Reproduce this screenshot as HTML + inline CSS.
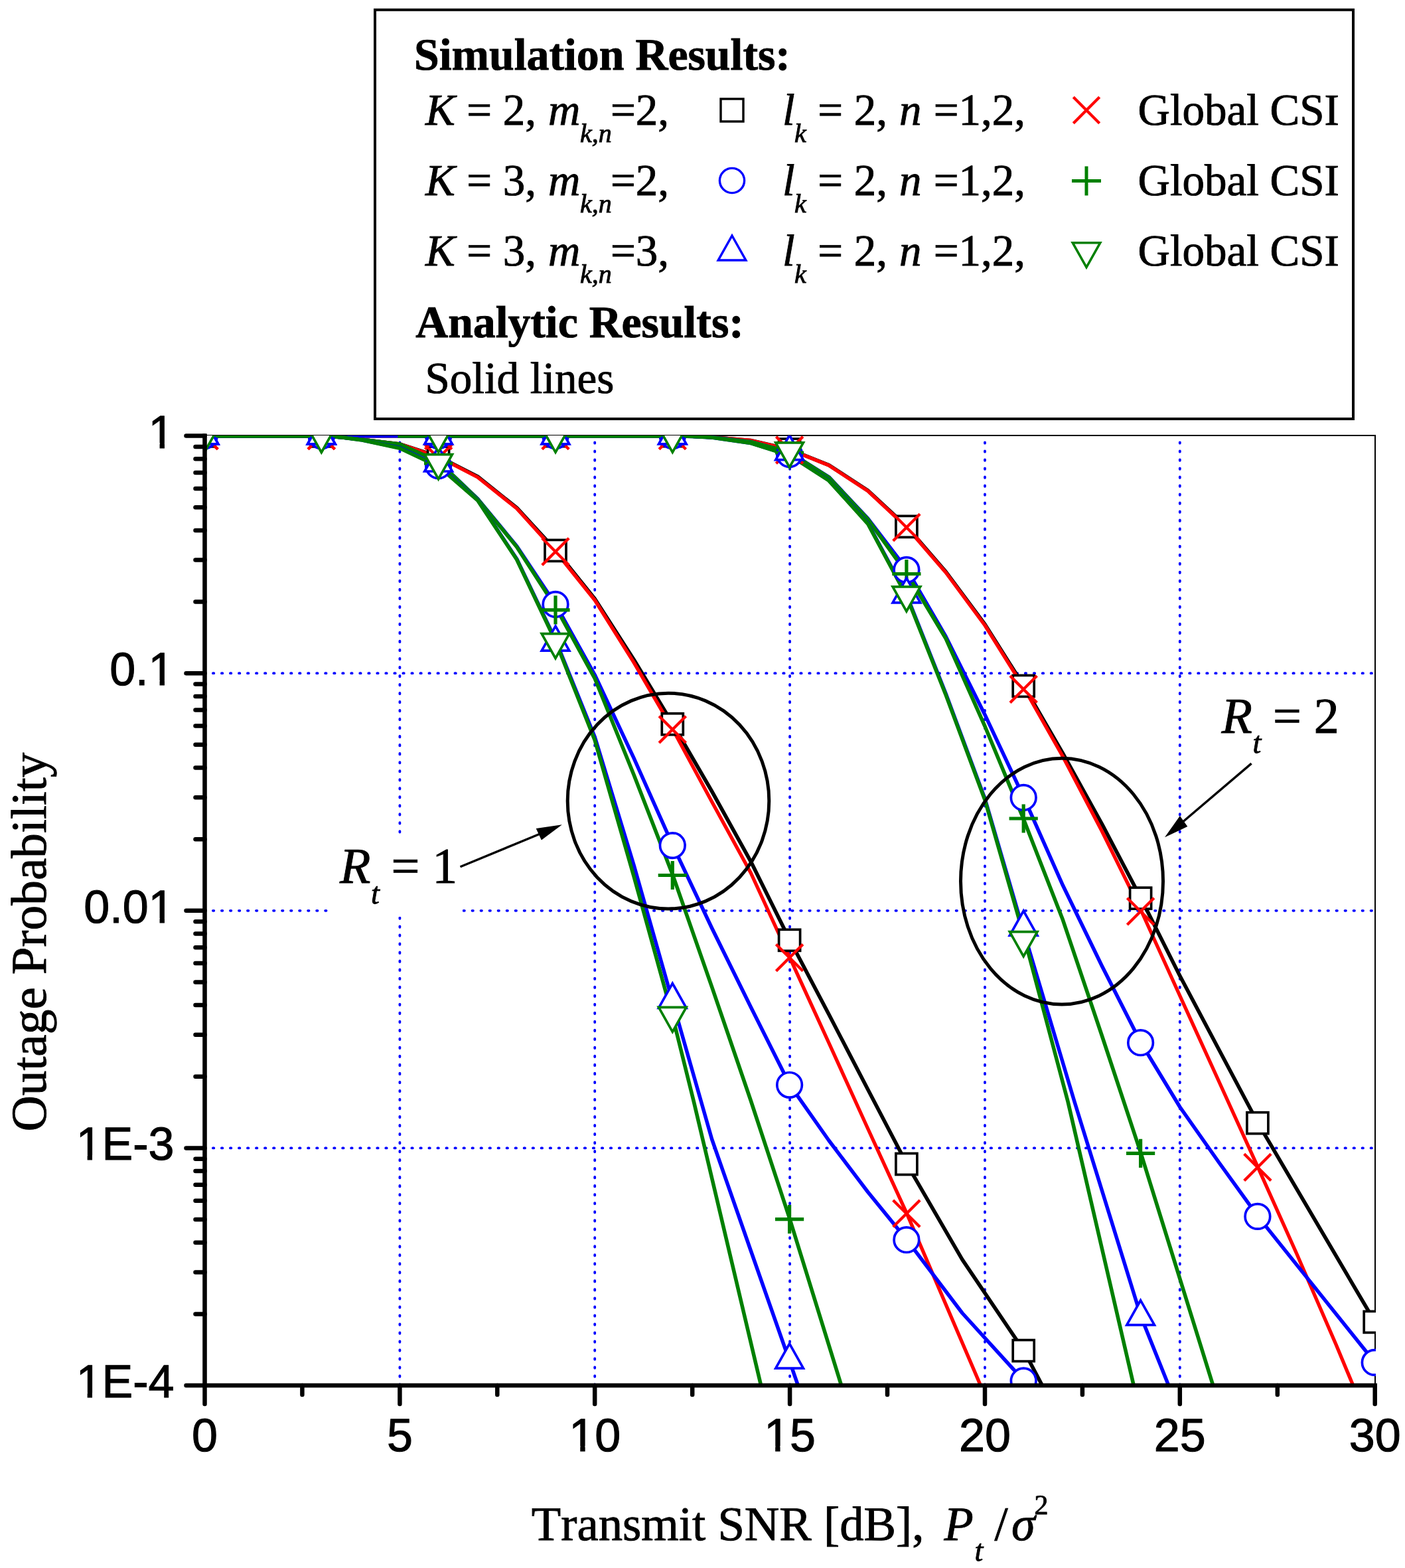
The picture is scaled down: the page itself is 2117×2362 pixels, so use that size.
<!DOCTYPE html>
<html lang="en">
<head>
<meta charset="utf-8">
<title>Outage Probability versus Transmit SNR</title>
<style>
html,body{margin:0;padding:0;background:#fff;}
body{width:2117px;height:2362px;overflow:hidden;}
svg{display:block;}
text{white-space:pre;font-kerning:none;font-variant-ligatures:none;text-rendering:geometricPrecision;}
</style>
</head>
<body>
<svg width="2117" height="2362" viewBox="0 0 2117 2362" role="img" aria-label="Outage probability versus transmit SNR">
<rect x="0" y="0" width="2117" height="2362" fill="#ffffff"/>
<defs><clipPath id="plotclip"><rect x="308.5" y="656" width="1764.50" height="1431.00"/></clipPath></defs>
<g id="grid" fill="none" stroke="#0000ff" stroke-width="3.8" stroke-linecap="round" stroke-dasharray="1.4 11.62">
<line x1="602.4" y1="666.3" x2="602.4" y2="2087.0"/>
<line x1="896.2" y1="666.3" x2="896.2" y2="2087.0"/>
<line x1="1190.1" y1="666.3" x2="1190.1" y2="2087.0"/>
<line x1="1484.0" y1="666.3" x2="1484.0" y2="2087.0"/>
<line x1="1777.8" y1="666.3" x2="1777.8" y2="2087.0"/>
<line x1="320.9" y1="1014.2" x2="2071.7" y2="1014.2"/>
<line x1="320.9" y1="1371.8" x2="2071.7" y2="1371.8"/>
<line x1="320.9" y1="1729.4" x2="2071.7" y2="1729.4"/>
</g>
<rect id="labelbg" x="495" y="1256" width="202" height="125" fill="#fff"/>
<path id="thinframe" d="M308.5 656H2072V2087.0" fill="none" stroke="#000" stroke-width="2"/>
<g id="curves" clip-path="url(#plotclip)" fill="none" stroke-width="5.3" stroke-linejoin="round">
<polyline stroke="#000000" stroke-width="5.6" points="308.5,656.6 1013.8,656.6 1043.2,657.2 1072.6,658.6 1131.3,663.5 1190.1,677.0 1248.9,700.6 1307.6,738.9 1366.4,793.3 1425.2,861.3 1484.0,940.4 1542.7,1033.4 1601.5,1134.8 1660.3,1241.0 1719.1,1353.1 1777.8,1470.0 1836.6,1581.0 1895.4,1691.7 2071.7,1991.4"/>
<polyline stroke="#ff0000" stroke-width="5.3" points="308.5,656.6 1013.8,656.6 1043.2,657.2 1072.6,658.6 1131.3,663.5 1190.1,677.3 1248.9,701.0 1307.6,739.5 1366.4,794.5 1425.2,862.5 1484.0,942.0 1542.7,1036.0 1601.5,1139.7 1660.3,1252.0 1719.1,1371.0 1777.8,1500.0 1836.6,1629.0 1895.4,1758.4 1954.2,1889.5 2012.9,2025.0 2038.8,2087.0 2065.8,2150.0"/>
<polyline stroke="#0000ff" stroke-width="5.5" points="308.5,656.6 1013.8,656.6 1043.2,657.3 1072.6,658.8 1131.3,665.5 1190.1,681.5 1248.9,718.5 1307.6,781.0 1366.4,857.6 1425.2,959.0 1484.0,1076.7 1542.7,1201.5 1601.5,1333.8 1660.3,1455.0 1719.1,1570.7 1777.8,1667.5 1836.6,1751.0 1895.4,1832.4 2071.7,2052.4"/>
<polyline stroke="#008000" stroke-width="5.6" points="599.4,656.6 1013.8,656.6 1043.2,657.3 1072.6,658.8 1131.3,665.5 1190.1,681.5 1248.9,719.0 1307.6,782.0 1366.4,864.0 1425.2,962.0 1484.0,1094.0 1542.7,1235.0 1601.5,1385.8 1660.3,1560.0 1719.1,1737.4 1827.8,2087.0 1848.4,2150.0"/>
<polyline stroke="#0000ff" stroke-width="5.5" points="308.5,656.6 1013.8,656.6 1043.2,657.4 1072.6,659.0 1131.3,667.5 1190.1,686.0 1248.9,723.5 1307.6,788.0 1366.4,897.0 1425.2,1045.0 1484.0,1203.0 1542.7,1404.0 1619.1,1660.0 1719.1,1983.0 1760.8,2087.0 1777.8,2130.0"/>
<polyline stroke="#008000" stroke-width="5.6" points="599.4,656.6 1013.8,656.6 1043.2,657.4 1072.6,659.0 1131.3,667.5 1190.1,686.0 1248.9,724.0 1307.6,789.0 1366.4,899.0 1425.2,1047.0 1484.0,1205.0 1542.7,1410.0 1609.2,1660.0 1708.2,2087.0 1720.8,2140.0"/>
<polyline stroke="#000000" stroke-width="5.6" points="308.5,656.6 484.8,656.6 514.2,658.6 543.6,662.0 602.4,669.0 661.1,688.0 719.9,718.0 778.7,765.0 837.5,829.0 896.2,902.0 955.0,993.4 1013.8,1090.8 1072.6,1192.0 1131.3,1297.8 1190.1,1416.3 1248.9,1528.0 1307.6,1641.0 1366.4,1753.5 1449.9,1897.4 1542.7,2034.6 1570.4,2087.0 1601.5,2140.0"/>
<polyline stroke="#ff0000" stroke-width="5.3" points="308.5,656.6 484.8,656.6 514.2,658.6 543.6,662.0 602.4,669.0 661.1,688.4 719.9,719.0 778.7,766.0 837.5,831.0 896.2,904.0 955.0,997.8 1013.8,1098.9 1072.6,1207.7 1131.3,1315.0 1190.1,1442.6 1248.9,1571.0 1307.6,1700.0 1366.4,1828.1 1477.5,2087.0 1502.8,2147.0"/>
<polyline stroke="#0000ff" stroke-width="5.5" points="308.5,656.6 484.8,656.6 514.2,658.6 543.6,662.0 602.4,669.5 661.1,695.5 719.9,751.5 778.7,822.7 837.5,911.0 896.2,1016.5 955.0,1141.8 1013.8,1273.6 1072.6,1398.0 1131.3,1517.0 1190.1,1634.3 1248.9,1718.0 1307.6,1795.5 1366.4,1867.7 1449.9,1978.0 1542.7,2080.0 1601.5,2142.0"/>
<polyline stroke="#008000" stroke-width="5.6" points="308.5,656.6 484.8,656.6 514.2,658.6 543.6,662.0 602.4,669.1 661.1,695.5 719.9,752.0 778.7,824.0 837.5,915.0 896.2,1022.0 955.0,1167.0 1013.8,1318.5 1072.6,1486.6 1131.3,1658.0 1190.1,1836.6 1267.7,2087.0 1285.3,2145.0"/>
<polyline stroke="#0000ff" stroke-width="5.5" points="308.5,656.6 484.8,656.6 514.2,658.8 543.6,662.6 602.4,674.5 661.1,702.0 719.9,753.5 778.7,842.0 837.5,965.0 896.2,1110.0 955.0,1303.0 1013.8,1510.0 1072.6,1716.0 1131.3,1884.0 1190.1,2051.6 1202.4,2087.0 1219.5,2137.0"/>
<polyline stroke="#008000" stroke-width="5.6" points="308.5,656.6 484.8,656.6 514.2,658.8 543.6,662.6 602.4,675.2 661.1,703.0 719.9,754.0 778.7,843.0 837.5,967.0 896.2,1115.0 955.0,1320.0 1013.8,1532.7 1045.5,1660.0 1146.6,2087.0 1160.7,2147.0"/>
</g>
<g id="markers" clip-path="url(#plotclip)">
<rect x="292.0" y="640.6" width="32" height="32" fill="#fff" stroke="#000000" stroke-width="3.7"/>
<rect x="468.3" y="640.6" width="32" height="32" fill="#fff" stroke="#000000" stroke-width="3.7"/>
<rect x="644.6" y="673.0" width="32" height="32" fill="#fff" stroke="#000000" stroke-width="3.7"/>
<rect x="821.0" y="813.4" width="32" height="32" fill="#fff" stroke="#000000" stroke-width="3.7"/>
<rect x="997.3" y="1074.8" width="32" height="32" fill="#fff" stroke="#000000" stroke-width="3.7"/>
<rect x="1173.6" y="1400.3" width="32" height="32" fill="#fff" stroke="#000000" stroke-width="3.7"/>
<rect x="1349.9" y="1737.5" width="32" height="32" fill="#fff" stroke="#000000" stroke-width="3.7"/>
<rect x="1526.2" y="2018.6" width="32" height="32" fill="#fff" stroke="#000000" stroke-width="3.7"/>
<path d="M287.8 636.4L328.2 676.8M287.8 676.8L328.2 636.4" fill="none" stroke="#ff0000" stroke-width="4.3"/>
<path d="M464.1 636.4L504.5 676.8M464.1 676.8L504.5 636.4" fill="none" stroke="#ff0000" stroke-width="4.3"/>
<path d="M640.4 669.8L680.8 710.2M640.4 710.2L680.8 669.8" fill="none" stroke="#ff0000" stroke-width="4.3"/>
<path d="M816.8 810.8L857.2 851.2M816.8 851.2L857.2 810.8" fill="none" stroke="#ff0000" stroke-width="4.3"/>
<path d="M993.1 1078.7L1033.5 1119.1M993.1 1119.1L1033.5 1078.7" fill="none" stroke="#ff0000" stroke-width="4.3"/>
<path d="M1169.4 1422.4L1209.8 1462.8M1169.4 1462.8L1209.8 1422.4" fill="none" stroke="#ff0000" stroke-width="4.3"/>
<path d="M1345.7 1807.9L1386.1 1848.3M1345.7 1848.3L1386.1 1807.9" fill="none" stroke="#ff0000" stroke-width="4.3"/>
<circle cx="308.0" cy="656.6" r="18.8" fill="#fff" stroke="#0000ff" stroke-width="3.7"/>
<circle cx="484.3" cy="656.6" r="18.8" fill="#fff" stroke="#0000ff" stroke-width="3.7"/>
<circle cx="660.6" cy="701.7" r="18.8" fill="#fff" stroke="#0000ff" stroke-width="3.7"/>
<circle cx="837.0" cy="910.5" r="18.8" fill="#fff" stroke="#0000ff" stroke-width="3.7"/>
<circle cx="1013.3" cy="1273.6" r="18.8" fill="#fff" stroke="#0000ff" stroke-width="3.7"/>
<circle cx="1189.6" cy="1634.3" r="18.8" fill="#fff" stroke="#0000ff" stroke-width="3.7"/>
<circle cx="1365.9" cy="1867.7" r="18.8" fill="#fff" stroke="#0000ff" stroke-width="3.7"/>
<circle cx="1542.2" cy="2080.0" r="18.8" fill="#fff" stroke="#0000ff" stroke-width="3.7"/>
<path d="M286.4 656.6L329.6 656.6M308.0 635.0L308.0 678.2" fill="none" stroke="#008000" stroke-width="5.2"/>
<path d="M462.7 656.6L505.9 656.6M484.3 635.0L484.3 678.2" fill="none" stroke="#008000" stroke-width="5.2"/>
<path d="M639.0 698.0L682.2 698.0M660.6 676.4L660.6 719.6" fill="none" stroke="#008000" stroke-width="5.2"/>
<path d="M815.4 918.8L858.6 918.8M837.0 897.2L837.0 940.4" fill="none" stroke="#008000" stroke-width="5.2"/>
<path d="M991.7 1318.5L1034.9 1318.5M1013.3 1296.9L1013.3 1340.1" fill="none" stroke="#008000" stroke-width="5.2"/>
<path d="M1168.0 1836.6L1211.2 1836.6M1189.6 1815.0L1189.6 1858.2" fill="none" stroke="#008000" stroke-width="5.2"/>
<path d="M308.0 631.9L328.8 668.9L287.2 668.9Z" fill="#fff" stroke="#0000ff" stroke-width="3.7" stroke-linejoin="miter"/>
<path d="M484.3 631.9L505.1 668.9L463.5 668.9Z" fill="#fff" stroke="#0000ff" stroke-width="3.7" stroke-linejoin="miter"/>
<path d="M660.6 673.0L681.4 710.0L639.8 710.0Z" fill="#fff" stroke="#0000ff" stroke-width="3.7" stroke-linejoin="miter"/>
<path d="M837.0 943.2L857.8 980.2L816.2 980.2Z" fill="#fff" stroke="#0000ff" stroke-width="3.7" stroke-linejoin="miter"/>
<path d="M1013.3 1481.3L1034.1 1518.3L992.5 1518.3Z" fill="#fff" stroke="#0000ff" stroke-width="3.7" stroke-linejoin="miter"/>
<path d="M1189.6 2024.1L1210.4 2061.1L1168.8 2061.1Z" fill="#fff" stroke="#0000ff" stroke-width="3.7" stroke-linejoin="miter"/>
<path d="M308.0 681.3L328.8 644.3L287.2 644.3Z" fill="#fff" stroke="#008000" stroke-width="3.7" stroke-linejoin="miter"/>
<path d="M484.3 681.3L505.1 644.3L463.5 644.3Z" fill="#fff" stroke="#008000" stroke-width="3.7" stroke-linejoin="miter"/>
<path d="M660.6 721.6L681.4 684.6L639.8 684.6Z" fill="#fff" stroke="#008000" stroke-width="3.7" stroke-linejoin="miter"/>
<path d="M837.0 991.6L857.8 954.6L816.2 954.6Z" fill="#fff" stroke="#008000" stroke-width="3.7" stroke-linejoin="miter"/>
<path d="M1013.3 1554.3L1034.1 1517.3L992.5 1517.3Z" fill="#fff" stroke="#008000" stroke-width="3.7" stroke-linejoin="miter"/>
<rect x="292.0" y="640.6" width="32" height="32" fill="#fff" stroke="#000000" stroke-width="3.7"/>
<rect x="468.3" y="640.6" width="32" height="32" fill="#fff" stroke="#000000" stroke-width="3.7"/>
<rect x="644.6" y="640.6" width="32" height="32" fill="#fff" stroke="#000000" stroke-width="3.7"/>
<rect x="821.0" y="640.6" width="32" height="32" fill="#fff" stroke="#000000" stroke-width="3.7"/>
<rect x="997.3" y="640.6" width="32" height="32" fill="#fff" stroke="#000000" stroke-width="3.7"/>
<rect x="1173.6" y="661.0" width="32" height="32" fill="#fff" stroke="#000000" stroke-width="3.7"/>
<rect x="1349.9" y="777.3" width="32" height="32" fill="#fff" stroke="#000000" stroke-width="3.7"/>
<rect x="1526.2" y="1017.4" width="32" height="32" fill="#fff" stroke="#000000" stroke-width="3.7"/>
<rect x="1702.6" y="1337.1" width="32" height="32" fill="#fff" stroke="#000000" stroke-width="3.7"/>
<rect x="1878.9" y="1675.7" width="32" height="32" fill="#fff" stroke="#000000" stroke-width="3.7"/>
<rect x="2055.2" y="1975.4" width="32" height="32" fill="#fff" stroke="#000000" stroke-width="3.7"/>
<path d="M287.8 636.4L328.2 676.8M287.8 676.8L328.2 636.4" fill="none" stroke="#ff0000" stroke-width="4.3"/>
<path d="M464.1 636.4L504.5 676.8M464.1 676.8L504.5 636.4" fill="none" stroke="#ff0000" stroke-width="4.3"/>
<path d="M640.4 636.4L680.8 676.8M640.4 676.8L680.8 636.4" fill="none" stroke="#ff0000" stroke-width="4.3"/>
<path d="M816.8 636.4L857.2 676.8M816.8 676.8L857.2 636.4" fill="none" stroke="#ff0000" stroke-width="4.3"/>
<path d="M993.1 636.4L1033.5 676.8M993.1 676.8L1033.5 636.4" fill="none" stroke="#ff0000" stroke-width="4.3"/>
<path d="M1169.4 657.8L1209.8 698.2M1169.4 698.2L1209.8 657.8" fill="none" stroke="#ff0000" stroke-width="4.3"/>
<path d="M1345.7 774.3L1386.1 814.7M1345.7 814.7L1386.1 774.3" fill="none" stroke="#ff0000" stroke-width="4.3"/>
<path d="M1522.0 1018.1L1562.4 1058.5M1522.0 1058.5L1562.4 1018.1" fill="none" stroke="#ff0000" stroke-width="4.3"/>
<path d="M1698.4 1352.7L1738.8 1393.1M1698.4 1393.1L1738.8 1352.7" fill="none" stroke="#ff0000" stroke-width="4.3"/>
<path d="M1874.7 1738.2L1915.1 1778.6M1874.7 1778.6L1915.1 1738.2" fill="none" stroke="#ff0000" stroke-width="4.3"/>
<circle cx="308.0" cy="656.6" r="18.8" fill="#fff" stroke="#0000ff" stroke-width="3.7"/>
<circle cx="484.3" cy="656.6" r="18.8" fill="#fff" stroke="#0000ff" stroke-width="3.7"/>
<circle cx="660.6" cy="656.6" r="18.8" fill="#fff" stroke="#0000ff" stroke-width="3.7"/>
<circle cx="837.0" cy="656.6" r="18.8" fill="#fff" stroke="#0000ff" stroke-width="3.7"/>
<circle cx="1013.3" cy="656.6" r="18.8" fill="#fff" stroke="#0000ff" stroke-width="3.7"/>
<circle cx="1189.6" cy="684.5" r="18.8" fill="#fff" stroke="#0000ff" stroke-width="3.7"/>
<circle cx="1365.9" cy="858.4" r="18.8" fill="#fff" stroke="#0000ff" stroke-width="3.7"/>
<circle cx="1542.2" cy="1201.5" r="18.8" fill="#fff" stroke="#0000ff" stroke-width="3.7"/>
<circle cx="1718.6" cy="1570.7" r="18.8" fill="#fff" stroke="#0000ff" stroke-width="3.7"/>
<circle cx="1894.9" cy="1832.4" r="18.8" fill="#fff" stroke="#0000ff" stroke-width="3.7"/>
<circle cx="2071.2" cy="2052.4" r="18.8" fill="#fff" stroke="#0000ff" stroke-width="3.7"/>
<path d="M286.4 656.6L329.6 656.6M308.0 635.0L308.0 678.2" fill="none" stroke="#008000" stroke-width="5.2"/>
<path d="M462.7 656.6L505.9 656.6M484.3 635.0L484.3 678.2" fill="none" stroke="#008000" stroke-width="5.2"/>
<path d="M639.0 656.6L682.2 656.6M660.6 635.0L660.6 678.2" fill="none" stroke="#008000" stroke-width="5.2"/>
<path d="M815.4 656.6L858.6 656.6M837.0 635.0L837.0 678.2" fill="none" stroke="#008000" stroke-width="5.2"/>
<path d="M991.7 656.6L1034.9 656.6M1013.3 635.0L1013.3 678.2" fill="none" stroke="#008000" stroke-width="5.2"/>
<path d="M1168.0 682.0L1211.2 682.0M1189.6 660.4L1189.6 703.6" fill="none" stroke="#008000" stroke-width="5.2"/>
<path d="M1344.3 864.5L1387.5 864.5M1365.9 842.9L1365.9 886.1" fill="none" stroke="#008000" stroke-width="5.2"/>
<path d="M1520.6 1233.0L1563.8 1233.0M1542.2 1211.4L1542.2 1254.6" fill="none" stroke="#008000" stroke-width="5.2"/>
<path d="M1697.0 1737.4L1740.2 1737.4M1718.6 1715.8L1718.6 1759.0" fill="none" stroke="#008000" stroke-width="5.2"/>
<path d="M308.0 631.9L328.8 668.9L287.2 668.9Z" fill="#fff" stroke="#0000ff" stroke-width="3.7" stroke-linejoin="miter"/>
<path d="M484.3 631.9L505.1 668.9L463.5 668.9Z" fill="#fff" stroke="#0000ff" stroke-width="3.7" stroke-linejoin="miter"/>
<path d="M660.6 631.9L681.4 668.9L639.8 668.9Z" fill="#fff" stroke="#0000ff" stroke-width="3.7" stroke-linejoin="miter"/>
<path d="M837.0 631.9L857.8 668.9L816.2 668.9Z" fill="#fff" stroke="#0000ff" stroke-width="3.7" stroke-linejoin="miter"/>
<path d="M1013.3 631.9L1034.1 668.9L992.5 668.9Z" fill="#fff" stroke="#0000ff" stroke-width="3.7" stroke-linejoin="miter"/>
<path d="M1189.6 655.7L1210.4 692.7L1168.8 692.7Z" fill="#fff" stroke="#0000ff" stroke-width="3.7" stroke-linejoin="miter"/>
<path d="M1365.9 870.8L1386.7 907.8L1345.1 907.8Z" fill="#fff" stroke="#0000ff" stroke-width="3.7" stroke-linejoin="miter"/>
<path d="M1542.2 1372.1L1563.0 1409.1L1521.4 1409.1Z" fill="#fff" stroke="#0000ff" stroke-width="3.7" stroke-linejoin="miter"/>
<path d="M1718.6 1958.8L1739.4 1995.8L1697.8 1995.8Z" fill="#fff" stroke="#0000ff" stroke-width="3.7" stroke-linejoin="miter"/>
<path d="M308.0 681.3L328.8 644.3L287.2 644.3Z" fill="#fff" stroke="#008000" stroke-width="3.7" stroke-linejoin="miter"/>
<path d="M484.3 681.3L505.1 644.3L463.5 644.3Z" fill="#fff" stroke="#008000" stroke-width="3.7" stroke-linejoin="miter"/>
<path d="M660.6 681.3L681.4 644.3L639.8 644.3Z" fill="#fff" stroke="#008000" stroke-width="3.7" stroke-linejoin="miter"/>
<path d="M837.0 681.3L857.8 644.3L816.2 644.3Z" fill="#fff" stroke="#008000" stroke-width="3.7" stroke-linejoin="miter"/>
<path d="M1013.3 681.3L1034.1 644.3L992.5 644.3Z" fill="#fff" stroke="#008000" stroke-width="3.7" stroke-linejoin="miter"/>
<path d="M1189.6 703.9L1210.4 666.9L1168.8 666.9Z" fill="#fff" stroke="#008000" stroke-width="3.7" stroke-linejoin="miter"/>
<path d="M1365.9 920.9L1386.7 883.9L1345.1 883.9Z" fill="#fff" stroke="#008000" stroke-width="3.7" stroke-linejoin="miter"/>
<path d="M1542.2 1440.7L1563.0 1403.7L1521.4 1403.7Z" fill="#fff" stroke="#008000" stroke-width="3.7" stroke-linejoin="miter"/>
</g>
<g id="frame" fill="none" stroke="#000">
<path d="M308.5 653.3V2087.0" stroke-width="6.6"/>
<path d="M305.2 2087.0H2075.0" stroke-width="6.4"/>
</g>
<g id="ticks" fill="none" stroke="#000" stroke-width="6.5" stroke-linecap="round">
<line x1="280.5" y1="656.6" x2="308.5" y2="656.6"/>
<line x1="294.5" y1="906.6" x2="308.5" y2="906.6"/>
<line x1="294.5" y1="843.6" x2="308.5" y2="843.6"/>
<line x1="294.5" y1="798.9" x2="308.5" y2="798.9"/>
<line x1="294.5" y1="764.2" x2="308.5" y2="764.2"/>
<line x1="294.5" y1="735.9" x2="308.5" y2="735.9"/>
<line x1="294.5" y1="712.0" x2="308.5" y2="712.0"/>
<line x1="294.5" y1="691.3" x2="308.5" y2="691.3"/>
<line x1="294.5" y1="673.0" x2="308.5" y2="673.0"/>
<line x1="280.5" y1="1014.2" x2="308.5" y2="1014.2"/>
<line x1="294.5" y1="1264.2" x2="308.5" y2="1264.2"/>
<line x1="294.5" y1="1201.2" x2="308.5" y2="1201.2"/>
<line x1="294.5" y1="1156.5" x2="308.5" y2="1156.5"/>
<line x1="294.5" y1="1121.8" x2="308.5" y2="1121.8"/>
<line x1="294.5" y1="1093.5" x2="308.5" y2="1093.5"/>
<line x1="294.5" y1="1069.6" x2="308.5" y2="1069.6"/>
<line x1="294.5" y1="1048.9" x2="308.5" y2="1048.9"/>
<line x1="294.5" y1="1030.6" x2="308.5" y2="1030.6"/>
<line x1="280.5" y1="1371.8" x2="308.5" y2="1371.8"/>
<line x1="294.5" y1="1621.8" x2="308.5" y2="1621.8"/>
<line x1="294.5" y1="1558.8" x2="308.5" y2="1558.8"/>
<line x1="294.5" y1="1514.1" x2="308.5" y2="1514.1"/>
<line x1="294.5" y1="1479.4" x2="308.5" y2="1479.4"/>
<line x1="294.5" y1="1451.1" x2="308.5" y2="1451.1"/>
<line x1="294.5" y1="1427.2" x2="308.5" y2="1427.2"/>
<line x1="294.5" y1="1406.5" x2="308.5" y2="1406.5"/>
<line x1="294.5" y1="1388.2" x2="308.5" y2="1388.2"/>
<line x1="280.5" y1="1729.4" x2="308.5" y2="1729.4"/>
<line x1="294.5" y1="1979.4" x2="308.5" y2="1979.4"/>
<line x1="294.5" y1="1916.4" x2="308.5" y2="1916.4"/>
<line x1="294.5" y1="1871.7" x2="308.5" y2="1871.7"/>
<line x1="294.5" y1="1837.0" x2="308.5" y2="1837.0"/>
<line x1="294.5" y1="1808.7" x2="308.5" y2="1808.7"/>
<line x1="294.5" y1="1784.8" x2="308.5" y2="1784.8"/>
<line x1="294.5" y1="1764.1" x2="308.5" y2="1764.1"/>
<line x1="294.5" y1="1745.8" x2="308.5" y2="1745.8"/>
<line x1="280.5" y1="2087.0" x2="308.5" y2="2087.0"/>
<line x1="308.5" y1="2087.0" x2="308.5" y2="2115.0"/>
<line x1="602.4" y1="2087.0" x2="602.4" y2="2115.0"/>
<line x1="896.2" y1="2087.0" x2="896.2" y2="2115.0"/>
<line x1="1190.1" y1="2087.0" x2="1190.1" y2="2115.0"/>
<line x1="1484.0" y1="2087.0" x2="1484.0" y2="2115.0"/>
<line x1="1777.8" y1="2087.0" x2="1777.8" y2="2115.0"/>
<line x1="2071.7" y1="2087.0" x2="2071.7" y2="2115.0"/>
<line x1="455.4" y1="2087.0" x2="455.4" y2="2101.0"/>
<line x1="749.3" y1="2087.0" x2="749.3" y2="2101.0"/>
<line x1="1043.2" y1="2087.0" x2="1043.2" y2="2101.0"/>
<line x1="1337.0" y1="2087.0" x2="1337.0" y2="2101.0"/>
<line x1="1630.9" y1="2087.0" x2="1630.9" y2="2101.0"/>
<line x1="1924.8" y1="2087.0" x2="1924.8" y2="2101.0"/>
</g>
<g id="ticklabels" font-family="'Liberation Sans', Arial, Helvetica, sans-serif" font-size="70" fill="#000" stroke="#000" stroke-width="1.1">
<text x="262.5" y="674.6" text-anchor="end">1</text>
<text x="262.5" y="1032.2" text-anchor="end">0.1</text>
<text x="262.5" y="1389.8" text-anchor="end">0.01</text>
<text x="262.5" y="1747.4" text-anchor="end">1E-3</text>
<text x="262.5" y="2105.0" text-anchor="end">1E-4</text>
<text x="308.5" y="2185.6" text-anchor="middle">0</text>
<text x="602.4" y="2185.6" text-anchor="middle">5</text>
<text x="896.2" y="2185.6" text-anchor="middle">10</text>
<text x="1190.1" y="2185.6" text-anchor="middle">15</text>
<text x="1484.0" y="2185.6" text-anchor="middle">20</text>
<text x="1777.8" y="2185.6" text-anchor="middle">25</text>
<text x="2071.7" y="2185.6" text-anchor="middle">30</text>
</g>
<g id="tickmask" fill="#fff">
<rect x="227.00" y="667.00" width="13.57" height="10.00"/>
<rect x="247.95" y="667.00" width="13.05" height="10.00"/>
<rect x="227.00" y="1025.00" width="13.57" height="9.00"/>
<rect x="247.95" y="1025.00" width="13.05" height="9.00"/>
<rect x="227.00" y="1383.00" width="13.55" height="9.00"/>
<rect x="247.94" y="1383.00" width="13.06" height="9.00"/>
<rect x="118.00" y="1740.00" width="13.63" height="9.00"/>
<rect x="139.01" y="1740.00" width="12.99" height="9.00"/>
<rect x="118.00" y="2098.00" width="13.63" height="9.00"/>
<rect x="139.01" y="2098.00" width="12.99" height="9.00"/>
<rect x="861.00" y="2178.00" width="13.27" height="10.00"/>
<rect x="881.65" y="2178.00" width="13.35" height="10.00"/>
<rect x="1154.00" y="2178.00" width="14.17" height="10.00"/>
<rect x="1175.55" y="2178.00" width="13.45" height="10.00"/>
</g>
<g id="titles" font-family="'Liberation Serif', 'Times New Roman', Times, serif" fill="#000" stroke="#000" stroke-width="0.9">

<text transform="translate(69.2,1704.6) rotate(-90)" font-size="75.3">Outage Probability</text>
<text x="800.8" y="2320" font-size="72.7">Transmit SNR [dB],</text>
<text x="1422.5" y="2320" font-size="72.4" font-style="italic">P</text>
<text x="1468.5" y="2351" font-size="46" font-style="italic">t</text>
<text x="1498.5" y="2320" font-size="72.4">/</text>
<text x="1524" y="2320" font-size="72.4" font-style="italic">σ</text>
<text x="1558.5" y="2280.5" font-size="42">2</text>

</g>

<g id="annot" fill="none" stroke="#000" stroke-width="5">
<ellipse cx="1007" cy="1206.6" rx="151.8" ry="162.4"/>
<ellipse cx="1600" cy="1327.6" rx="152.5" ry="185.4"/>
</g>
<g id="arrows" stroke="#000" stroke-width="3.4" fill="#000">
<line x1="693.5" y1="1305.8" x2="815" y2="1255.5"/>
<path d="M846.9 1242.3L807.7 1248.1L815.8 1265.4Z" stroke="none"/>
<line x1="1885.6" y1="1150.1" x2="1782" y2="1238.2"/>
<path d="M1755 1261.2L1777.9 1229.1L1789.3 1245.1Z" stroke="none"/>
</g>
<g id="annotext" font-family="'Liberation Serif', 'Times New Roman', Times, serif" fill="#000" font-size="76" stroke="#000" stroke-width="0.9">
<text x="512" y="1330" font-style="italic">R</text>
<text x="559" y="1360.5" font-size="46" font-style="italic">t</text>
<text x="570.5" y="1330"> = 1</text>
<text x="1840.5" y="1104" font-style="italic">R</text>
<text x="1887.5" y="1134" font-size="46" font-style="italic">t</text>
<text x="1899" y="1104"> = 2</text>
</g>


<g id="legend">
<rect x="565" y="14.8" width="1474" height="616.2" fill="#fff" stroke="#000" stroke-width="4"/>
<g font-family="'Liberation Serif', 'Times New Roman', Times, serif" fill="#000" font-size="67" stroke="#000" stroke-width="0.9">
<text x="624" y="105" font-weight="bold" font-size="67.8">Simulation Results:</text>

<text x="641" y="188" font-style="italic">K</text>
<text x="686.5" y="188"> = 2, </text>
<text x="826" y="188" font-style="italic">m</text>
<text x="874" y="214" font-size="40" font-style="italic">k,n</text>
<text x="920" y="188">=2,</text>
<text x="1179" y="188" font-style="italic">l</text>
<text x="1197" y="214" font-size="40" font-style="italic">k</text>
<text x="1215.5" y="188"> = 2, </text>
<text x="1355" y="188" font-style="italic">n</text>
<text x="1390" y="188"> =1,2,</text>
<text x="1714.5" y="188">Global CSI</text>


<text x="641" y="294" font-style="italic">K</text>
<text x="686.5" y="294"> = 3, </text>
<text x="826" y="294" font-style="italic">m</text>
<text x="874" y="320" font-size="40" font-style="italic">k,n</text>
<text x="920" y="294">=2,</text>
<text x="1179" y="294" font-style="italic">l</text>
<text x="1197" y="320" font-size="40" font-style="italic">k</text>
<text x="1215.5" y="294"> = 2, </text>
<text x="1355" y="294" font-style="italic">n</text>
<text x="1390" y="294"> =1,2,</text>
<text x="1714.5" y="294">Global CSI</text>


<text x="641" y="400" font-style="italic">K</text>
<text x="686.5" y="400"> = 3, </text>
<text x="826" y="400" font-style="italic">m</text>
<text x="874" y="426" font-size="40" font-style="italic">k,n</text>
<text x="920" y="400">=3,</text>
<text x="1179" y="400" font-style="italic">l</text>
<text x="1197" y="426" font-size="40" font-style="italic">k</text>
<text x="1215.5" y="400"> = 2, </text>
<text x="1355" y="400" font-style="italic">n</text>
<text x="1390" y="400"> =1,2,</text>
<text x="1714.5" y="400">Global CSI</text>

<text x="626.3" y="507.5" font-weight="bold" font-size="67.7">Analytic Results:</text>
<text x="640.6" y="591.5">Solid lines</text>
</g>
<g id="legmarkers">
<rect x="1086.0" y="149.0" width="34" height="34" fill="#fff" stroke="#000000" stroke-width="3.4"/>
<path d="M1617.3 146.3L1656.7 185.7M1617.3 185.7L1656.7 146.3" fill="none" stroke="#ff0000" stroke-width="4.3"/>
<circle cx="1103.0" cy="272.0" r="18.6" fill="#fff" stroke="#0000ff" stroke-width="3.4"/>
<path d="M1615.0 272.4L1659.0 272.4M1637.0 250.4L1637.0 294.4" fill="none" stroke="#008000" stroke-width="5.0"/>
<path d="M1103.0 355.0L1123.8 392.0L1082.2 392.0Z" fill="#fff" stroke="#0000ff" stroke-width="3.5" stroke-linejoin="miter"/>
<path d="M1637.0 402.7L1657.8 365.7L1616.2 365.7Z" fill="#fff" stroke="#008000" stroke-width="3.5" stroke-linejoin="miter"/>
</g>
</g>

</svg>
</body>
</html>
